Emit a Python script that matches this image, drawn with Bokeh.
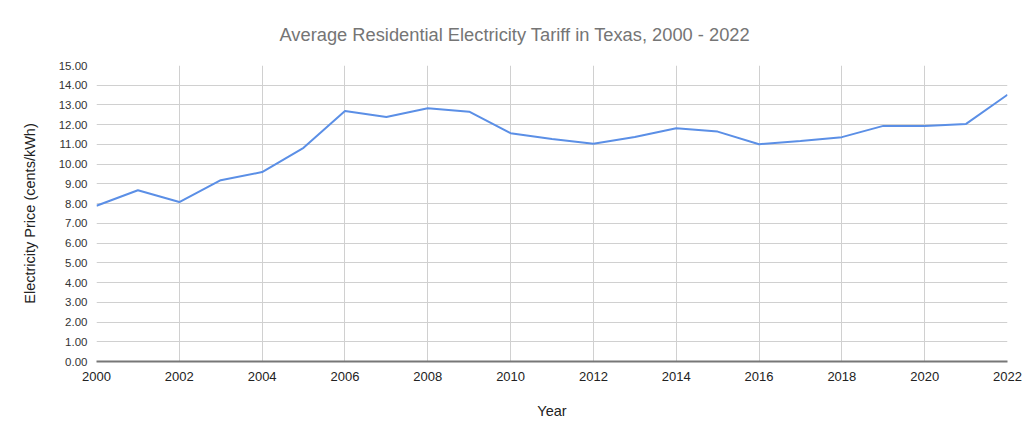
from bokeh.plotting import figure
from bokeh.models import Range1d, FixedTicker, NumeralTickFormatter
from bokeh.embed import file_html
from bokeh.resources import INLINE

years = [2000, 2001, 2002, 2003, 2004, 2005, 2006, 2007, 2008, 2009, 2010, 2011,
         2012, 2013, 2014, 2015, 2016, 2017, 2018, 2019, 2020, 2021, 2022]
prices = [7.89, 8.68, 8.08, 9.19, 9.60, 10.83, 12.70, 12.39, 12.83, 12.66, 11.57, 11.28,
          11.03, 11.38, 11.82, 11.65, 11.01, 11.18, 11.37, 11.94, 11.94, 12.04, 13.52]
x_ticks = list(range(2000, 2023, 2))
y_ticks = list(range(0, 16))

FONT = "Liberation Sans"

p = figure(width=1022, height=440, output_backend="svg", toolbar_location=None,
           x_range=Range1d(2000, 2022), y_range=Range1d(0, 15),
           min_border_left=96, min_border_right=15, min_border_top=65, min_border_bottom=79,
           title="Average Residential Electricity Tariff in Texas, 2000 - 2022")

p.line(years, prices, line_color="#5b8fe6", line_width=2)

# title, centred on the whole chart rather than the frame
p.title.align = "left"
p.title.offset = 183
p.title.text_font = FONT
p.title.text_font_size = "18.3px"
p.title.text_font_style = "normal"
p.title.text_color = "#757575"
p.title.standoff = 41

p.outline_line_color = None
p.background_fill_color = "white"
p.border_fill_color = "white"

# axes
p.xaxis.ticker = FixedTicker(ticks=x_ticks)
p.yaxis.ticker = FixedTicker(ticks=y_ticks)
p.yaxis.formatter = NumeralTickFormatter(format="0.00")
p.xaxis.axis_label = "Year"
p.yaxis.axis_label = "Electricity Price (cents/kWh)"

for ax in (p.xaxis, p.yaxis):
    ax.major_tick_line_color = None
    ax.minor_tick_line_color = None
    ax.axis_label_text_font = FONT
    ax.axis_label_text_font_style = "normal"
    ax.axis_label_text_font_size = "14.5px"
    ax.axis_label_text_color = "#222222"
    ax.major_label_text_font = FONT

p.xaxis.major_label_text_font_size = "13px"
p.xaxis.major_label_text_color = "#222222"
p.xaxis.major_label_standoff = 4
p.xaxis.axis_label_standoff = 19
p.xaxis.axis_line_color = "#777777"
p.xaxis.axis_line_width = 2

p.yaxis.major_label_text_font_size = "11.5px"
p.yaxis.major_label_text_color = "#333333"
p.yaxis.major_label_standoff = 3
p.yaxis.axis_label_standoff = 18
p.yaxis.axis_line_color = None

p.grid.grid_line_color = "#d0d0d0"
p.grid.grid_line_width = 1

open("out.html", "w").write(file_html(p, INLINE))
